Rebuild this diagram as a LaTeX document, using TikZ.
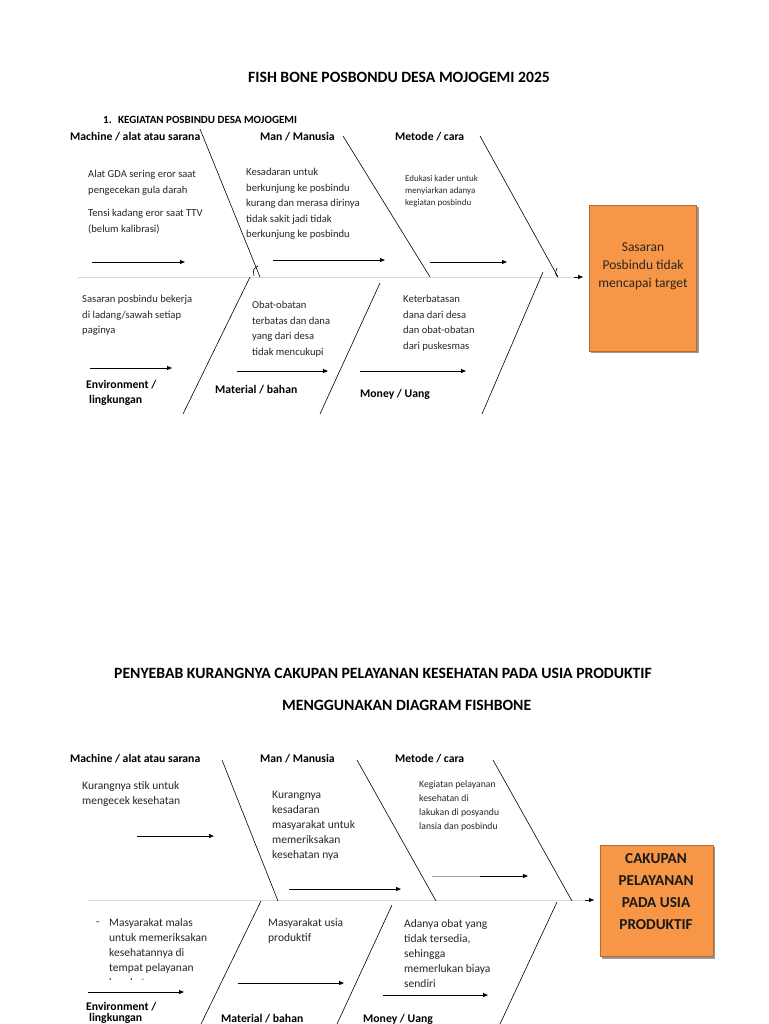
\documentclass[tikz,border=0pt]{standalone}
\usepackage{fontspec}
\setmainfont{Carlito}
\usetikzlibrary{arrows.meta}
\definecolor{boxorange}{HTML}{F79646}
\definecolor{boxedge}{HTML}{B9672A}
\definecolor{spinegray}{HTML}{D9D9D9}
\definecolor{shadowgray}{HTML}{9A9A9A}
\begin{document}
\begin{tikzpicture}[x=1pt,y=-1pt,
  bone/.style={line width=0.6pt, black},
  spine/.style={line width=0.9pt, spinegray},
  headtip/.style={-{Triangle[length=5pt,width=4pt]}, black},
  causearrow/.style={-{Triangle[length=5pt,width=4pt]}, line width=0.9pt, black},
  title/.style={font=\fontsize{15.7}{18}\selectfont\bfseries, anchor=base west, inner sep=0},
  lbl/.style={font=\fontsize{11.7}{14}\selectfont\bfseries, anchor=base west, inner sep=0},
  sublbl/.style={font=\fontsize{11}{14}\selectfont\bfseries, anchor=base west, inner sep=0},
  bodytop/.style={font=\fontsize{10.6}{15.5}\selectfont, anchor=north west, align=left, inner sep=0, text=black!85},
  smalltop/.style={font=\fontsize{8.9}{12}\selectfont, anchor=north west, align=left, inner sep=0, text=black!85},
  bodybot/.style={font=\fontsize{11.5}{15.1}\selectfont, anchor=north west, align=left, inner sep=0, text=black!85},
  smallbot/.style={font=\fontsize{9.7}{13.8}\selectfont, anchor=north west, align=left, inner sep=0, text=black!85},
  effectbox/.style={draw=boxedge, line width=0.5pt, fill=boxorange, inner sep=0, anchor=north west},
]
\useasboundingbox (0,0) rectangle (768,1024);
\fill[white] (0,0) rectangle (768,1024);

%================ TOP DIAGRAM ================
\node[title] (t1) at (248,83) {FISH BONE POSBONDU DESA MOJOGEMI 2025};
\node[sublbl] (n1) at (103,124) {1.};
\node[sublbl] (h1) at (118,124) {KEGIATAN POSBINDU DESA MOJOGEMI};
\node[lbl] (lmach) at (70,141) {Machine / alat atau sarana};
\node[lbl] (lman) at (260,141) {Man / Manusia};
\node[lbl] (lmet) at (395,141) {Metode / cara};

% spine
\coordinate (sA) at (78,277);
\coordinate (sB) at (583,277);
\draw[spine] (sA) -- (576,277);
\draw[headtip] (574,277) -- (sB);

% bones
\coordinate (b1a) at (200,129); \coordinate (b1b) at (260,277);
\coordinate (b2a) at (343,136); \coordinate (b2b) at (430,277);
\coordinate (b3a) at (480,136); \coordinate (b3b) at (558,277);
\coordinate (b4a) at (183,414); \coordinate (b4b) at (250,277);
\coordinate (b5a) at (320,414); \coordinate (b5b) at (380,283);
\coordinate (b6a) at (482,414); \coordinate (b6b) at (543,272);
\draw[bone] (b1a) -- (b1b);
\draw[bone] (b2a) -- (b2b);
\draw[bone] (b3a) -- (b3b);
\draw[bone] (b4a) -- (b4b);
\draw[bone] (b5a) -- (b5b);
\draw[bone] (b6a) -- (b6b);
\draw[bone] (258,266) .. controls (253,269) .. (254,276);
\draw[bone] (558,277) .. controls (555,274) .. (557,268);

% cause arrows
\coordinate (a1a) at (92,262);  \coordinate (a1b) at (185,262);
\coordinate (a2a) at (273,260); \coordinate (a2b) at (385,260);
\coordinate (a3a) at (430,262); \coordinate (a3b) at (507,262);
\coordinate (a4a) at (90,368);  \coordinate (a4b) at (172,368);
\coordinate (a5a) at (237,371); \coordinate (a5b) at (328,371);
\coordinate (a6a) at (360,371); \coordinate (a6b) at (466,371);
\draw[causearrow] (a1a) -- (a1b);
\draw[causearrow] (a2a) -- (a2b);
\draw[causearrow] (a3a) -- (a3b);
\draw[causearrow] (a4a) -- (a4b);
\draw[causearrow] (a5a) -- (a5b);
\draw[causearrow] (a6a) -- (a6b);

% texts
\node[bodytop] (c1) at (88,170) {Alat GDA sering eror saat\\pengecekan gula darah\\[8pt]Tensi kadang eror saat TTV\\(belum kalibrasi)};
\node[bodytop] (c2) at (246,168) {Kesadaran untuk\\berkunjung ke posbindu\\kurang dan merasa dirinya\\tidak sakit jadi tidak\\berkunjung ke posbindu};
\node[smalltop] (c3) at (405,175) {Edukasi kader untuk\\menyiarkan adanya\\kegiatan posbindu};
\node[bodytop] (c4) at (82,295) {Sasaran posbindu bekerja\\di ladang/sawah setiap\\paginya};
\node[bodytop] (c5) at (252,301) {Obat-obatan\\terbatas dan dana\\yang dari desa\\tidak mencukupi};
\node[bodytop] (c6) at (403,295) {Keterbatasan\\dana dari desa\\dan obat-obatan\\dari puskesmas};

\node[lbl] (lenv) at (86,388) {Environment /};
\node[lbl] (lenv2) at (89,403) {lingkungan};
\node[lbl] (lmat) at (215,393) {Material / bahan};
\node[lbl] (lmon) at (360,397) {Money / Uang};

% effect box
\fill[shadowgray] (591,207) rectangle (699,353);
\node[effectbox, minimum width=107pt, minimum height=146pt] (eff1) at (589,205) {};
\node[font=\fontsize{13.5}{18.2}\selectfont, align=center, inner sep=0, text=black!85] (eff1t) at (643,266) {Sasaran\\Posbindu tidak\\mencapai target};

%================ BOTTOM DIAGRAM ================
\node[title] (t2) at (114,678) {PENYEBAB KURANGNYA CAKUPAN PELAYANAN KESEHATAN PADA USIA PRODUKTIF};
\node[title] (t3) at (282,710) {MENGGUNAKAN DIAGRAM FISHBONE};
\node[lbl] (lmachB) at (70,762) {Machine / alat atau sarana};
\node[lbl] (lmanB) at (260,762) {Man / Manusia};
\node[lbl] (lmetB) at (395,762) {Metode / cara};

\coordinate (tA) at (88,900);
\coordinate (tB) at (594,900);
\draw[spine] (tA) -- (588,900);
\draw[headtip] (585,900) -- (tB);

\coordinate (d1a) at (222,760); \coordinate (d1b) at (278,901);
\coordinate (d2a) at (357,760); \coordinate (d2b) at (436,901);
\coordinate (d3a) at (493,760); \coordinate (d3b) at (572,901);
\coordinate (d4a) at (201,1024); \coordinate (d4b) at (261,901);
\coordinate (d5a) at (337,1024); \coordinate (d5b) at (392,905);
\coordinate (d6a) at (500,1024); \coordinate (d6b) at (557,902);
\draw[bone] (d1a) -- (d1b);
\draw[bone] (d2a) -- (d2b);
\draw[bone] (d3a) -- (d3b);
\draw[bone] (d4a) -- (d4b);
\draw[bone] (d5a) -- (d5b);
\draw[bone] (d6a) -- (d6b);

\coordinate (e1a) at (137,836); \coordinate (e1b) at (214,836);
\coordinate (e2a) at (289,889); \coordinate (e2b) at (401,889);
\coordinate (e3a) at (432,876); \coordinate (e3m) at (480,876); \coordinate (e3b) at (528,876);
\coordinate (e4a) at (88,992);  \coordinate (e4b) at (184,992);
\coordinate (e5a) at (238,983); \coordinate (e5b) at (344,983);
\coordinate (e6a) at (383,995); \coordinate (e6b) at (488,995);
\draw[causearrow] (e1a) -- (e1b);
\draw[causearrow] (e2a) -- (e2b);
\draw[line width=0.9pt, black!35] (e3a) -- (e3m);
\draw[causearrow] (e3m) -- (e3b);
\draw[causearrow] (e4a) -- (e4b);
\draw[causearrow] (e5a) -- (e5b);
\draw[causearrow] (e6a) -- (e6b);

\node[bodybot] (k1) at (82,781) {Kurangnya stik untuk\\mengecek kesehatan};
\node[bodybot] (k2) at (272,791) {Kurangnya\\kesadaran\\masyarakat untuk\\memeriksakan\\kesehatan nya};
\node[smallbot] (k3) at (419,781) {Kegiatan pelayanan\\kesehatan di\\lakukan di posyandu\\lansia dan posbindu};
\node[font=\fontsize{11.5}{15.1}\selectfont, anchor=base west, inner sep=0, text=black!85] (k4dash) at (96,925) {-};
\begin{scope}
\clip (100,900) rectangle (260,979.5);
\node[bodybot] (k4) at (109,918) {Masyarakat malas\\untuk memeriksakan\\kesehatannya di\\tempat pelayanan\\kesehatan};
\end{scope}
\node[bodybot] (k5) at (268,918) {Masyarakat usia\\produktif};
\node[bodybot] (k6) at (404,919) {Adanya obat yang\\tidak tersedia,\\sehingga\\memerlukan biaya\\sendiri};

\node[lbl] (lenvB) at (86,1010) {Environment /};
\node[lbl] (lenvB2) at (89,1021) {lingkungan};
\node[lbl] (lmatB) at (221,1022) {Material / bahan};
\node[lbl] (lmonB) at (363,1022) {Money / Uang};

\fill[shadowgray] (602,847) rectangle (715,959);
\node[effectbox, minimum width=113pt, minimum height=111pt] (eff2) at (600,845) {};
\node[font=\fontsize{15.2}{22}\selectfont\bfseries, align=center, inner sep=0, text=black!90] (eff2t) at (656,892) {CAKUPAN\\PELAYANAN\\PADA USIA\\PRODUKTIF};
\end{tikzpicture}
\end{document}
